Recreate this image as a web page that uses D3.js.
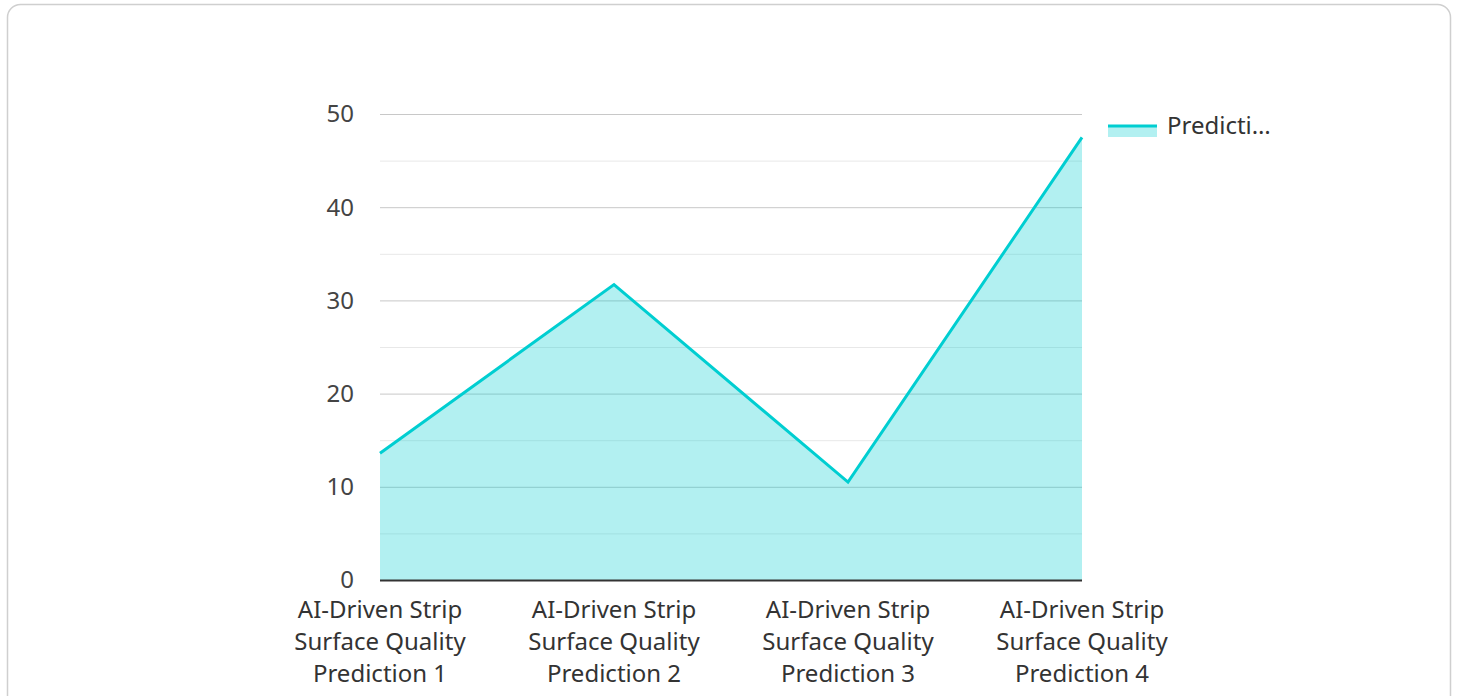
<!DOCTYPE html>
<html>
<head>
<meta charset="utf-8">
<script src="https://cdn.jsdelivr.net/npm/d3@7"></script>
<style>
  body { margin: 0; background: #fff; font-family: "Noto Sans", sans-serif; }
  svg { display: block; }
</style>
</head>
<body>
<div id="chart"></div>
<script>
// chart data
const categories = [
    "AI-Driven Strip Surface Quality Prediction 1",
    "AI-Driven Strip Surface Quality Prediction 2",
    "AI-Driven Strip Surface Quality Prediction 3",
    "AI-Driven Strip Surface Quality Prediction 4"
];
const categoryLines = [
    ["AI-Driven Strip", "Surface Quality", "Prediction 1"],
    ["AI-Driven Strip", "Surface Quality", "Prediction 2"],
    ["AI-Driven Strip", "Surface Quality", "Prediction 3"],
    ["AI-Driven Strip", "Surface Quality", "Prediction 4"]
];
const predictionValues = [13.6, 31.7, 10.5, 47.5];
const yTicks = [0, 10, 20, 30, 40, 50];
const seriesName = "Predicti…";

const width = 1458, height = 696;
const margin = { top: 114, right: 376, bottom: 116, left: 380 };
const lineColor = "#00ced1";
const fontSize = 24;

const svg = d3.select("#chart").append("svg")
    .attr("width", width)
    .attr("height", height);

// card outline
svg.append("rect")
    .attr("x", 7.5).attr("y", 4.5)
    .attr("width", 1443).attr("height", 720)
    .attr("rx", 13)
    .attr("fill", "#fff")
    .attr("stroke", "#cfcfcf")
    .attr("stroke-width", 1.5);

const data = categories.map((c, i) => ({ cat: c, value: predictionValues[i] }));

const xScale = d3.scalePoint()
    .domain(categories)
    .range([margin.left, width - margin.right])
    .padding(0);

const yScale = d3.scaleLinear()
    .domain([0, 50])
    .range([height - margin.bottom, margin.top]);

// gridlines, minor every 5, major every 10
const minor = d3.range(5, 50, 10);
svg.append("g").selectAll("line")
    .data(minor)
    .enter().append("line")
    .attr("x1", margin.left).attr("x2", width - margin.right)
    .attr("y1", d => yScale(d) + 0.5).attr("y2", d => yScale(d) + 0.5)
    .attr("stroke", "#e8e8e8")
    .attr("stroke-width", 1);

svg.append("g").selectAll("line")
    .data(yTicks.filter(d => d > 0))
    .enter().append("line")
    .attr("x1", margin.left).attr("x2", width - margin.right)
    .attr("y1", d => yScale(d) + 0.5).attr("y2", d => yScale(d) + 0.5)
    .attr("stroke", "#c8c8c8")
    .attr("stroke-width", 1);

// area + line
const area = d3.area()
    .x(d => xScale(d.cat))
    .y0(yScale(0))
    .y1(d => yScale(d.value));

const line = d3.line()
    .x(d => xScale(d.cat))
    .y(d => yScale(d.value));

svg.append("path")
    .datum(data)
    .attr("fill", lineColor)
    .attr("fill-opacity", 0.3)
    .attr("d", area);

svg.append("path")
    .datum(data)
    .attr("fill", "none")
    .attr("stroke", lineColor)
    .attr("stroke-width", 3)
    .attr("d", line);

// x axis line
svg.append("line")
    .attr("x1", margin.left).attr("x2", width - margin.right)
    .attr("y1", yScale(0) + 0.5).attr("y2", yScale(0) + 0.5)
    .attr("stroke", "#333")
    .attr("stroke-width", 2);

// y tick labels
svg.append("g").selectAll("text")
    .data(yTicks)
    .enter().append("text")
    .attr("x", 354)
    .attr("y", d => yScale(d))
    .attr("dy", "0.35em")
    .attr("text-anchor", "end")
    .attr("font-size", fontSize)
    .attr("fill", "#444")
    .text(d => d);

// x category labels (wrapped)
const xLabels = svg.append("g").selectAll("text")
    .data(categories)
    .enter().append("text")
    .attr("text-anchor", "middle")
    .attr("font-size", fontSize)
    .attr("fill", "#333");

xLabels.each(function(d, i) {
    const t = d3.select(this);
    categoryLines[i].forEach((ln, j) => {
        t.append("tspan")
            .attr("x", xScale(d))
            .attr("y", 618 + j * 32)
            .text(ln);
    });
});

// legend
const legend = svg.append("g").attr("transform", "translate(1108,126)");
legend.append("rect")
    .attr("x", 0).attr("y", 0)
    .attr("width", 49).attr("height", 11)
    .attr("fill", lineColor)
    .attr("fill-opacity", 0.3);
legend.append("line")
    .attr("x1", 0).attr("x2", 49)
    .attr("y1", 0).attr("y2", 0)
    .attr("stroke", lineColor)
    .attr("stroke-width", 3);
legend.append("text")
    .attr("x", 59).attr("y", 0)
    .attr("dy", "0.35em")
    .attr("font-size", fontSize)
    .attr("fill", "#333")
    .text(seriesName);
</script>
</body>
</html>
